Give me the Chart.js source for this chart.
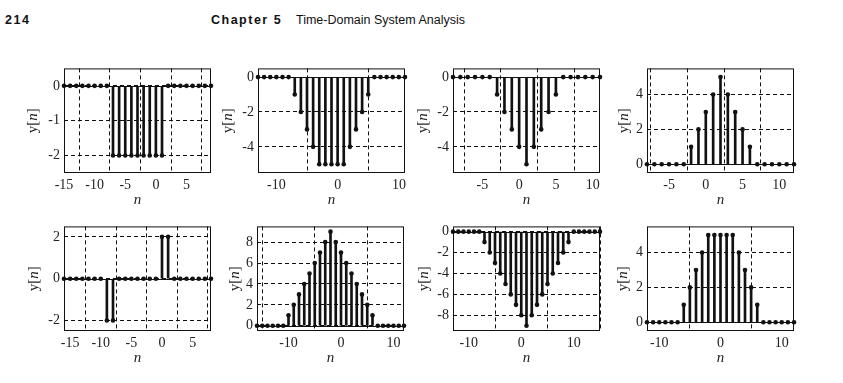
<!DOCTYPE html>
<html>
<head>
<meta charset="utf-8">
<script src="https://cdn.jsdelivr.net/npm/chart.js@4/dist/chart.umd.min.js"></script>
<style>
  body { margin: 0; background: #fff; width: 843px; height: 383px; position: relative; overflow: hidden; }
  canvas { position: absolute; }
  .hd { position: absolute; font-family: 'Liberation Sans', Arial, sans-serif; color: #111; white-space: nowrap; line-height: 14px; }
</style>
</head>
<body>
<div class="hd" style="left:5px;top:13px;font-size:12.5px;font-weight:bold;letter-spacing:1.5px">214</div>
<div class="hd" style="left:211px;top:13px;font-size:12.5px;font-weight:bold;letter-spacing:1.5px">Chapter 5</div>
<div class="hd" style="left:296px;top:13px;font-size:12.5px">Time-Domain System Analysis</div>
<script>
// datos de cada panel: n (indices), y[n] (valores), ticks
const n1 = [-15,-14,-13,-12,-11,-10,-9,-8,-7,-6,-5,-4,-3,-2,-1,0,1,2,3,4,5,6,7,8,9];
const y1 = [0,0,0,0,0,0,0,0,-2,-2,-2,-2,-2,-2,-2,-2,-2,0,0,0,0,0,0,0,0];
const n2 = [-13,-12,-11,-10,-9,-8,-7,-6,-5,-4,-3,-2,-1,0,1,2,3,4,5,6,7,8,9,10,11];
const y2 = [0,0,0,0,0,0,-1,-2,-3,-4,-5,-5,-5,-5,-5,-4,-3,-2,-1,0,0,0,0,0,0];
const n3 = [-9,-8,-7,-6,-5,-4,-3,-2,-1,0,1,2,3,4,5,6,7,8,9,10,11];
const y3 = [0,0,0,0,0,0,-1,-2,-3,-4,-5,-4,-3,-2,-1,0,0,0,0,0,0];
const n4 = [-8,-7,-6,-5,-4,-3,-2,-1,0,1,2,3,4,5,6,7,8,9,10,11,12];
const y4 = [0,0,0,0,0,0,1,2,3,4,5,4,3,2,1,0,0,0,0,0,0];
const n5 = [-16,-15,-14,-13,-12,-11,-10,-9,-8,-7,-6,-5,-4,-3,-2,-1,0,1,2,3,4,5,6,7,8];
const y5 = [0,0,0,0,0,0,0,-2,-2,0,0,0,0,0,0,0,2,2,0,0,0,0,0,0,0];
const n6 = [-16,-15,-14,-13,-12,-11,-10,-9,-8,-7,-6,-5,-4,-3,-2,-1,0,1,2,3,4,5,6,7,8,9,10,11,12];
const y6 = [0,0,0,0,0,0,1,2,3,4,5,6,7,8,9,8,7,6,5,4,3,2,1,0,0,0,0,0,0];
const n7 = [-13,-12,-11,-10,-9,-8,-7,-6,-5,-4,-3,-2,-1,0,1,2,3,4,5,6,7,8,9,10,11,12,13,14,15];
const y7 = [0,0,0,0,0,0,-1,-2,-3,-4,-5,-6,-7,-8,-9,-8,-7,-6,-5,-4,-3,-2,-1,0,0,0,0,0,0];
const n8 = [-12,-11,-10,-9,-8,-7,-6,-5,-4,-3,-2,-1,0,1,2,3,4,5,6,7,8,9,10,11,12];
const y8 = [0,0,0,0,0,0,1,2,3,4,5,5,5,5,5,4,3,2,1,0,0,0,0,0,0];

const xt1 = [-15,-10,-5,0,5];
const xt2 = [-10,0,10];
const xt3 = [-5,0,5,10];
const yt1 = [-2,-1,0];
const yt2 = [-4,-2,0];
const yt4 = [0,2,4];
const yt5 = [-2,0,2];
const yt6 = [0,2,4,6,8];
const yt7 = [-8,-6,-4,-2,0];

// margenes del canvas alrededor del area del grafico
const L = 48, T = 8, R = 12, B = 40, PW = 147, PH = 109;

const panels = [
  { n: n1, y: y1, left: 64,  top: 64,  xr: [-15, 9],  yr: [-2.5, 0.5], xt: xt1, yt: yt1, yOff: 31 },
  { n: n2, y: y2, left: 258, top: 64,  xr: [-13, 11], yr: [-5.5, 0.5], xt: xt2, yt: yt2, yOff: 30 },
  { n: n3, y: y3, left: 453, top: 64,  xr: [-9, 11],  yr: [-5.5, 0.5], xt: xt3, yt: yt2, yOff: 30 },
  { n: n4, y: y4, left: 647, top: 64,  xr: [-8, 12],  yr: [-0.5, 5.5], xt: xt3, yt: yt4, yOff: 23 },
  { n: n5, y: y5, left: 64,  top: 222, xr: [-16, 8],  yr: [-2.5, 2.5], xt: xt1, yt: yt5, yOff: 30 },
  { n: n6, y: y6, left: 257, top: 222, xr: [-16, 12], yr: [-0.5, 9.5], xt: xt2, yt: yt6, yOff: 22 },
  { n: n7, y: y7, left: 453, top: 222, xr: [-13, 15], yr: [-9.5, 0.5], xt: xt2, yt: yt7, yOff: 29 },
  { n: n8, y: y8, left: 647, top: 222, xr: [-12, 12], yr: [-0.5, 5.5], xt: xt2, yt: yt4, yOff: 24 }
];

const ink = '#111';
const tickFont = { family: "'Liberation Serif', 'Times New Roman', serif", size: 14 };

// linea base, marco y titulos de ejes
const stemFrame = {
  id: 'stemFrame',
  beforeDatasetsDraw(chart) {
    const { ctx, chartArea: a, scales: { y } } = chart;
    const y0 = Math.round(y.getPixelForValue(0)) + 0.5;
    ctx.save();
    ctx.strokeStyle = ink;
    ctx.lineWidth = 1;
    ctx.beginPath();
    ctx.moveTo(a.left, y0);
    ctx.lineTo(a.right, y0);
    ctx.stroke();
    ctx.restore();
  },
  afterDraw(chart, args, opts) {
    const { ctx, chartArea: a } = chart;
    ctx.save();
    ctx.strokeStyle = ink;
    ctx.lineWidth = 1;
    ctx.strokeRect(a.left + 0.5, a.top + 0.5, a.width - 1, a.height - 1);

    ctx.fillStyle = '#222';
    ctx.textBaseline = 'middle';
    ctx.textAlign = 'center';
    ctx.font = "italic 15px 'Liberation Serif'";
    ctx.fillText('n', (a.left + a.right) / 2, a.bottom + 27);

    // y[n] girado
    const parts = [['y', "15px 'Liberation Serif'"], ['[', "15px 'Liberation Serif'"],
                   ['n', "italic 15px 'Liberation Serif'"], [']', "15px 'Liberation Serif'"]];
    let total = 0;
    parts.forEach(p => { ctx.font = p[1]; total += ctx.measureText(p[0]).width; });
    ctx.translate(a.left - opts.yOff, (a.top + a.bottom) / 2);
    ctx.rotate(-Math.PI / 2);
    ctx.textAlign = 'left';
    let x = -total / 2;
    parts.forEach(p => { ctx.font = p[1]; ctx.fillText(p[0], x, 0); x += ctx.measureText(p[0]).width; });
    ctx.restore();
  }
};

function makePanel(p) {
  const cv = document.createElement('canvas');
  cv.width = L + PW + R;
  cv.height = T + PH + B;
  cv.style.left = (p.left - L) + 'px';
  cv.style.top = (p.top - T) + 'px';
  document.body.appendChild(cv);

  const pts = p.n.map((v, i) => ({ x: v, y: p.y[i] }));

  new Chart(cv, {
    type: 'bar',
    data: {
      datasets: [
        { type: 'scatter', data: pts, pointRadius: 2.3, pointBackgroundColor: ink, pointBorderWidth: 0, clip: false },
        { type: 'bar', data: pts, backgroundColor: ink, barThickness: 2, clip: false }
      ]
    },
    options: {
      responsive: false,
      animation: false,
      devicePixelRatio: 1,
      layout: { padding: { top: T, right: R, left: 0, bottom: 0 } },
      plugins: { legend: { display: false }, tooltip: { enabled: false }, stemFrame: { yOff: p.yOff } },
      scales: {
        x: {
          type: 'linear', min: p.xr[0], max: p.xr[1], offset: false,
          afterBuildTicks: s => { s.ticks = p.xt.map(v => ({ value: v })); },
          afterFit: s => { s.height = B; },
          grid: { color: ink, lineWidth: 1, drawTicks: false },
          border: { display: false, dash: [4, 3] },
          ticks: { font: tickFont, color: '#222', padding: 4, maxRotation: 0, autoSkip: false }
        },
        y: {
          type: 'linear', min: p.yr[0], max: p.yr[1],
          afterBuildTicks: s => { s.ticks = p.yt.map(v => ({ value: v })); },
          afterFit: s => { s.width = L; },
          grid: { color: ink, lineWidth: 1, drawTicks: false },
          border: { display: false, dash: [4, 3] },
          ticks: { font: tickFont, color: '#222', padding: 4, autoSkip: false }
        }
      }
    },
    plugins: [stemFrame]
  });
}

panels.forEach(makePanel);
</script>
</body>
</html>
